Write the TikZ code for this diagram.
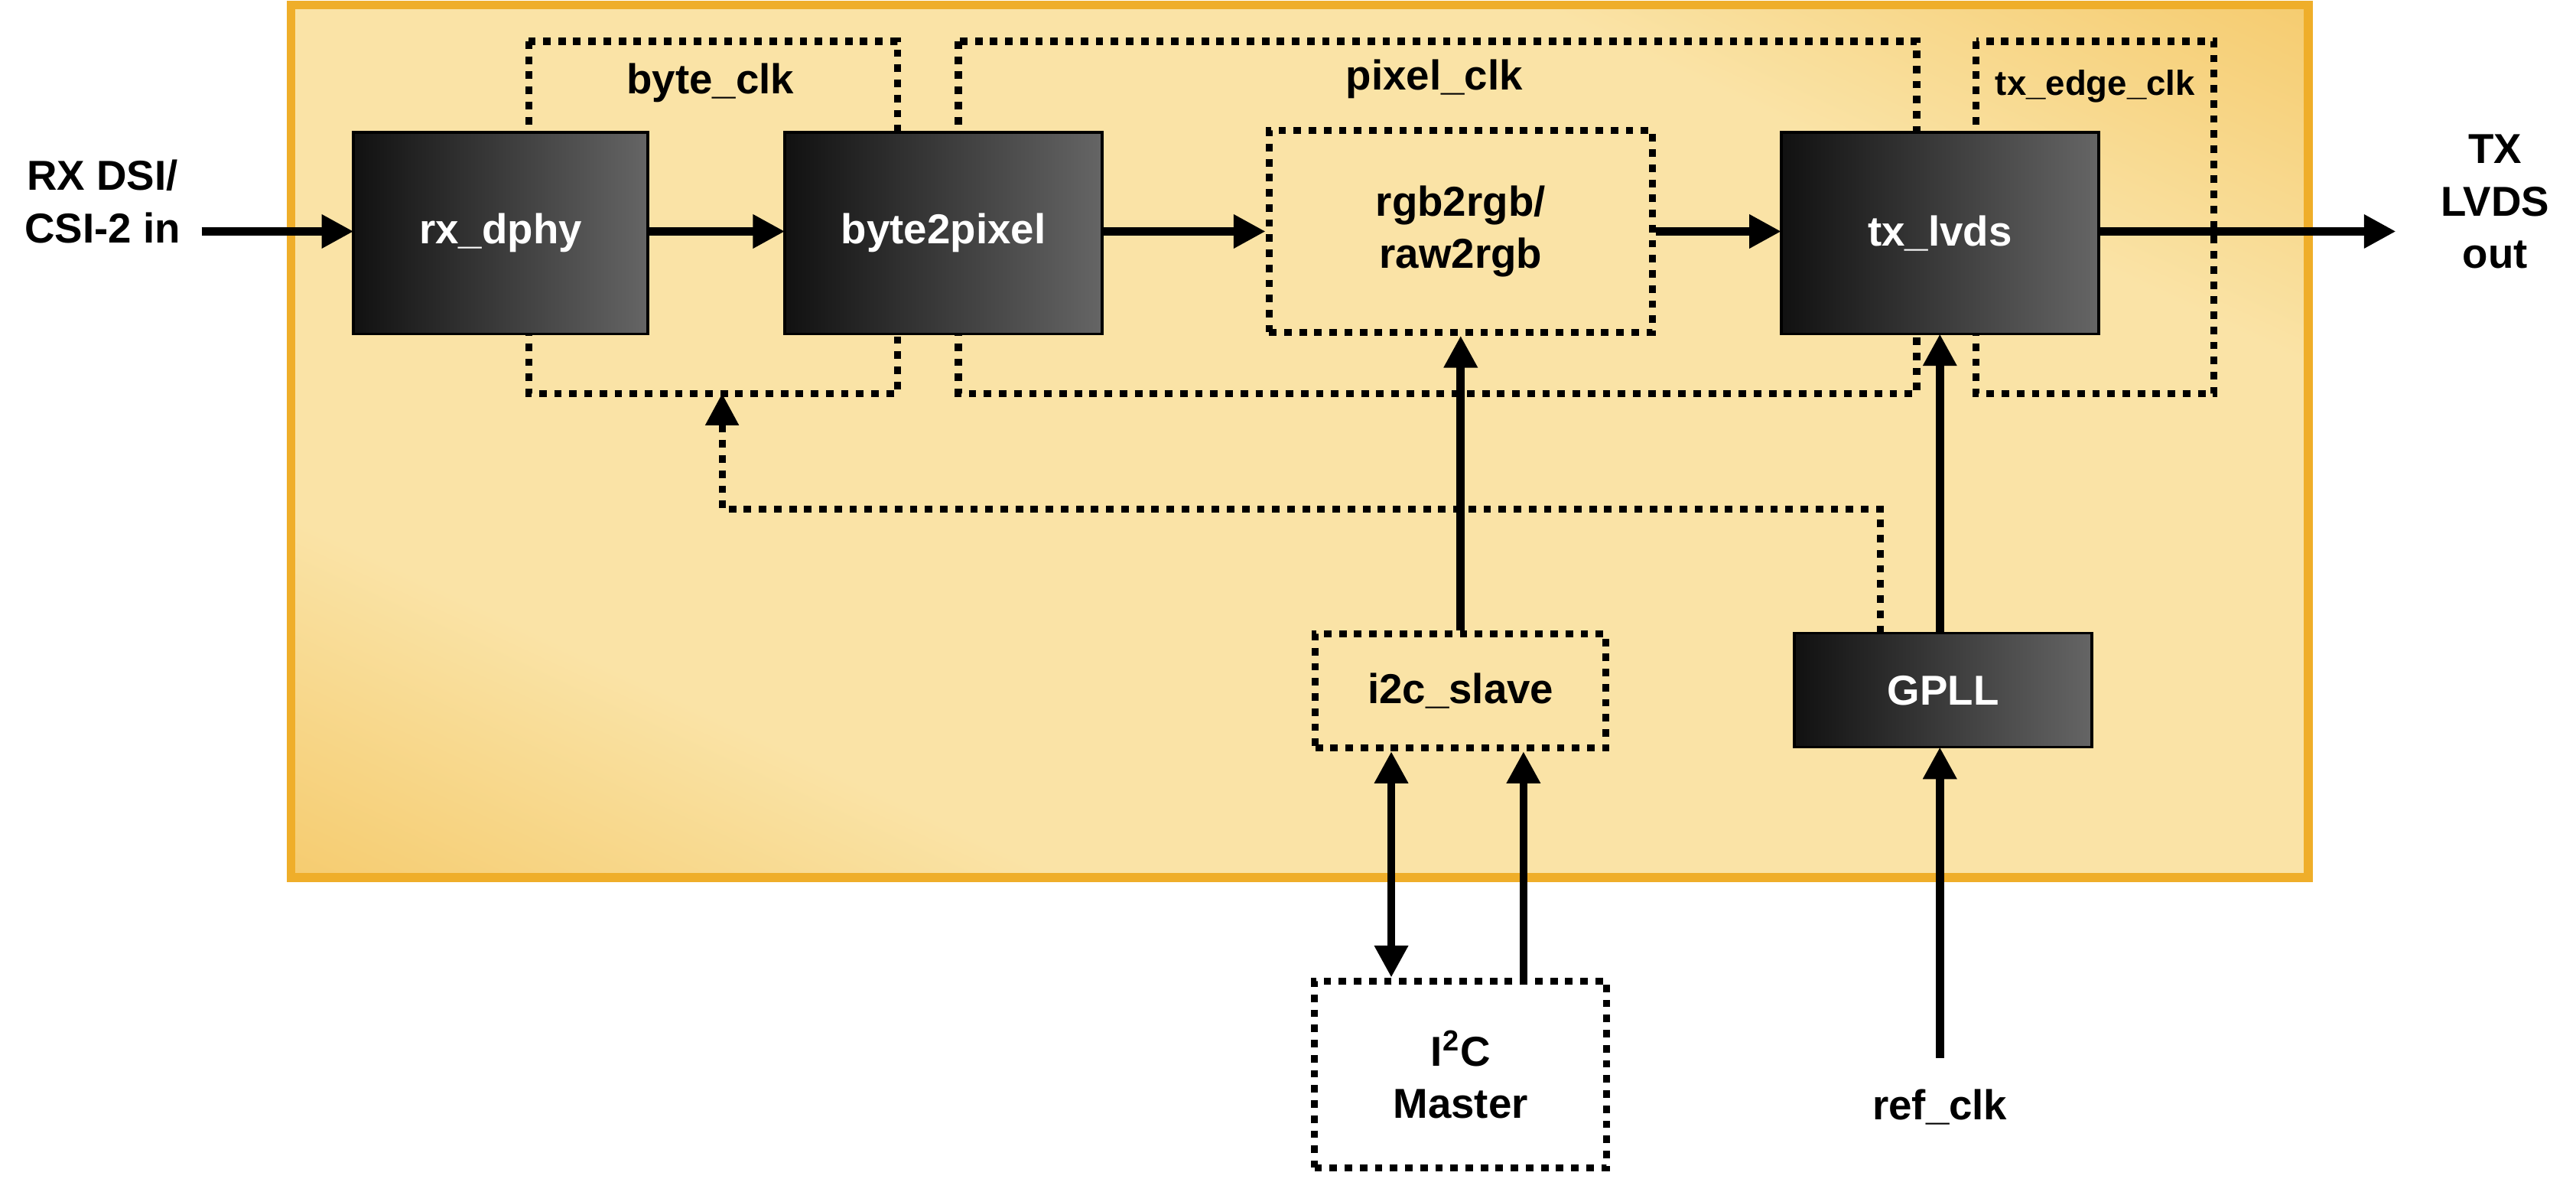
\documentclass[tikz,border=0pt]{standalone}
\usepackage{fontspec}
\setmainfont{Liberation Sans}
\usetikzlibrary{arrows.meta}
\definecolor{orD}{HTML}{EFAE2A}
\definecolor{orL}{HTML}{FAE3A6}
\definecolor{dkA}{HTML}{111111}
\definecolor{dkB}{HTML}{656565}
\pgfdeclarehorizontalshading{orangesh}{100bp}{color(0bp)=(orD);color(30bp)=(orL);color(50bp)=(orL);color(70bp)=(orL);color(100bp)=(orD)}
\begin{document}
\begin{tikzpicture}[x=0.02cm,y=-0.02cm,
  dot/.style={line width=2.4pt,dash pattern=on 2.6pt off 2.6pt},
  dark/.style={draw=black,line width=1pt,left color=dkA,right color=dkB},
  dbox/.style={dot,fill=none,font=\bfseries\Large,align=center},
  arr/.style={line width=2.8pt,-{Triangle[length=11pt,width=11pt]}},
  lbl/.style={font=\bfseries\Large,align=center}]
\useasboundingbox (0,0) rectangle (1559,721);
\shade[shading=orangesh,shading angle=65,draw=orD,line width=3pt] (176,3) rectangle (1397,531);
% clock domains
\draw[dot] (320,25) rectangle (543,238);
\draw[dot] (580,25) rectangle (1160,238);
\draw[dot] (1196,25) rectangle (1340,238);
\node[lbl] (bc) at (430,50) {byte\_clk};
\node[lbl] (pc) at (868,48) {pixel\_clk};
\node[font=\bfseries\large] (tc) at (1268,52) {tx\_edge\_clk};
% blocks
\path[dark] (214,80) rectangle (392,202); \node[text=white,font=\bfseries\Large] (rx) at (303,141) {rx\_dphy};
\path[dark] (475,80) rectangle (667,202); \node[text=white,font=\bfseries\Large] (bp) at (571,141) {byte2pixel};
\path[dark] (1078,80) rectangle (1270,202); \node[text=white,font=\bfseries\Large] (tx) at (1174,141) {tx\_lvds};
\path[dark] (1086,383) rectangle (1266,452); \node[text=white,font=\bfseries\Large] (gp) at (1176,418) {GPLL};
\coordinate (rxw) at (214,140); \coordinate (rxe) at (392,140);
\coordinate (bpw) at (475,140); \coordinate (bpe) at (667,140);
\coordinate (txw) at (1078,140); \coordinate (txe) at (1270,140); \coordinate (txs) at (1174,202);
\coordinate (gn) at (1174,383); \coordinate (gs) at (1174,452); \coordinate (gd) at (1138,383);
\node[dbox,draw,minimum width=4.64cm,minimum height=2.44cm] (rgb) at (884,140) {rgb2rgb/\\raw2rgb};
\node[dbox,draw,minimum width=3.52cm,minimum height=1.38cm] (i2c) at (884,418) {i2c\_slave};
\node[dbox,draw,minimum width=3.54cm,minimum height=2.26cm] (mst) at (884,650) {I\textsuperscript{2}C\\Master};
% labels
\node[lbl] (rxin) at (62,122) {RX DSI/\\CSI-2 in};
\node[lbl] (txout) at (1510,122) {TX\\LVDS\\out};
\node[lbl] (ref) at (1174,670) {ref\_clk};
\coordinate (inA) at (122,140); \coordinate (outB) at (1450,140); \coordinate (refA) at (1174,640);
% arrows
\draw[arr] (inA) -- (rxw);
\draw[arr] (rxe) -- (bpw);
\draw[arr] (bpe) -- (rgb.west);
\draw[arr] (rgb.east) -- (txw);
\draw[arr] (txe) -- (outB);
\draw[arr] (i2c.north) -- (rgb.south);
\draw[arr] (gn) -- (txs);
\draw[arr] (refA) -- (gs);
\draw[line width=2.8pt,{Triangle[length=11pt,width=11pt]}-{Triangle[length=11pt,width=11pt]}] (i2c.south -| 842,0) -- (mst.north -| 842,0);
\draw[arr] (mst.north -| 922,0) -- (i2c.south -| 922,0);
\draw[dot,-{Triangle[length=11pt,width=11pt]}] (gd) -- (1138,308) -- (437,308) -- (437,238);
\end{tikzpicture}
\end{document}
